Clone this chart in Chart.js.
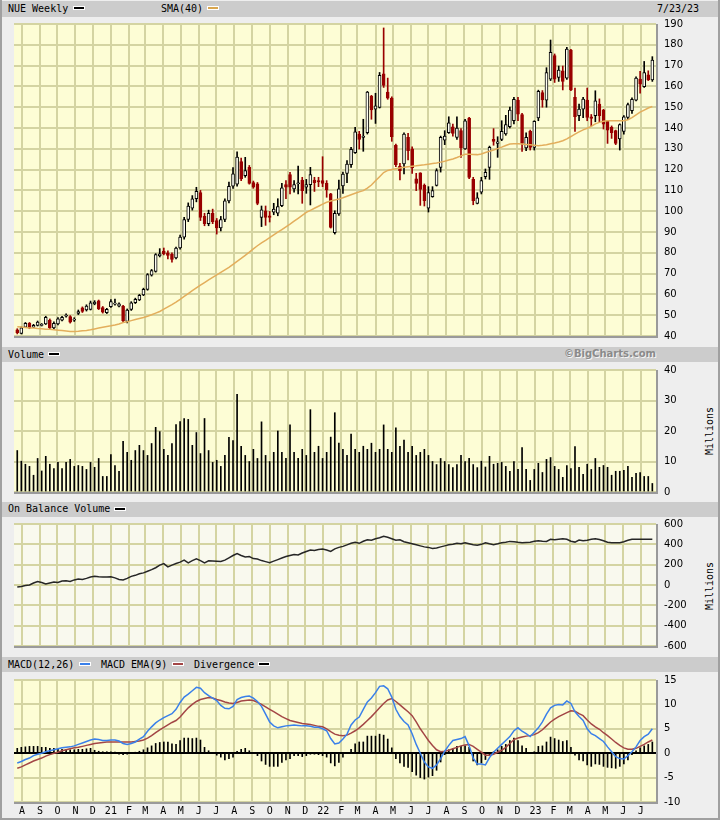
<!DOCTYPE html>
<html>
<head>
<meta charset="utf-8">
<title>NUE Weekly</title>
<script src="https://cdn.jsdelivr.net/npm/chart.js"></script>
<style>
html, body { margin: 0; padding: 0; background: #eeeeee; }
#wrap { position: relative; width: 720px; height: 820px; background: #eeeeee; overflow: hidden;
        font-family: "DejaVu Sans Mono", monospace; font-size: 10px; }
.band { position: absolute; left: 2px; width: 716px; background: #cccccc; }
.edge { position: absolute; background: #a0a0a0; }
.t { position: absolute; white-space: pre; line-height: 10px; color: #000; }
.sw { position: absolute; width: 12px; height: 4px; box-sizing: border-box; border: 1px solid #fff; }
.mil { position: absolute; width: 60px; text-align: center; line-height: 10px; transform: rotate(-90deg); }
.copy { position: absolute; right: 64px; top: 349px; font: bold 10px "DejaVu Sans", sans-serif;
        color: #8a8a8a; text-shadow: 1px 1px 0 #f4f4f4; line-height: 10px; }
canvas { position: absolute; left: 0; }
</style>
</head>
<body>
<div id="wrap">
  <div class="edge" style="left:0;top:0;width:2px;height:820px"></div>
  <div class="edge" style="left:718px;top:0;width:2px;height:820px"></div>
  <div class="edge" style="left:0;top:818px;width:720px;height:2px"></div>

  <div class="band" style="top:1px;height:16px"></div>
  <div class="t" style="left:8px;top:4px">NUE Weekly</div>
  <div class="sw" style="left:73px;top:6px;background:#000"></div>
  <div class="t" style="left:161px;top:4px">SMA(40)</div>
  <div class="sw" style="left:207px;top:6px;background:#d9a64e"></div>
  <div class="t" style="left:657px;top:4px">7/23/23</div>

  <div class="band" style="top:347px;height:15px"></div>
  <div class="t" style="left:8px;top:350px">Volume</div>
  <div class="sw" style="left:48px;top:352px;background:#000"></div>
  <div class="copy">©BigCharts.com</div>
  <div class="mil" style="left:680px;top:426px">Millions</div>

  <div class="band" style="top:502px;height:15px"></div>
  <div class="t" style="left:8px;top:504px">On Balance Volume</div>
  <div class="sw" style="left:114px;top:507px;background:#000"></div>
  <div class="mil" style="left:680px;top:581px">Millions</div>

  <div class="band" style="top:657px;height:15px"></div>
  <div class="t" style="left:8px;top:660px">MACD(12,26)</div>
  <div class="sw" style="left:79px;top:662px;background:#3a80ea"></div>
  <div class="t" style="left:101px;top:660px">MACD EMA(9)</div>
  <div class="sw" style="left:172px;top:662px;background:#a34646"></div>
  <div class="t" style="left:194px;top:660px">Divergence</div>
  <div class="sw" style="left:258px;top:662px;background:#000"></div>

  <canvas id="cPrice" width="720" height="340" style="top:10px"></canvas>
  <canvas id="cVol" width="720" height="150" style="top:356px"></canvas>
  <canvas id="cObv" width="720" height="150" style="top:510px"></canvas>
  <canvas id="cMacd" width="720" height="152" style="top:666px"></canvas>
</div>

<script>

// weekly bars, first bar = week ending 2020-07-24, last = week ending 2023-07-21
const firstWeek = '2020-07-24';

const monthLabels = ['A','S','O','N','D','21','F','M','A','M','J','J',
                     'A','S','O','N','D','22','F','M','A','M','J','J',
                     'A','S','O','N','D','23','F','M','A','M','J','J'];

const openP = [
43.0,41.3,44.2,46.1,44.2,45.1,45.1,45.8,47.7,43.9,45.8,47.6,49.5,49.3,47.6,50.8,53.5,52.5,52.8,55.4,
56.9,53.7,51.2,54.1,55.3,54.4,54.4,47.0,52.8,56.0,57.3,59.8,62.4,69.2,71.1,78.5,80.8,80.0,79.4,77.5,
82.3,87.5,96.0,101.5,106.0,109.0,97.5,94.0,99.0,95.5,92.0,96.0,105.0,112.0,113.0,
123.9,117.1,121.1,113.7,113.1,97.0,100.2,97.8,99.5,99.0,102.7,112.8,117.6,110.7,113.2,115.0,111.5,112.8,115.0,114.7,
114.7,113.4,108.3,89.7,98.7,112.1,118.2,122.4,128.1,137.1,135.5,137.7,155.4,149.0,149.9,166.0,157.3,154.4,131.7,121.7,
122.7,135.5,130.0,115.6,118.5,112.4,101.5,107.0,112.4,121.1,134.2,137.7,140.6,135.5,138.7,130.0,144.8,115.3,103.8,
109.1,116.6,121.1,134.5,132.6,134.5,137.1,140.6,143.5,153.4,146.4,130.4,138.4,130.7,144.8,157.0,153.4,163.5,174.8,164.3,
167.5,164.0,177.5,154.7,145.9,149.1,153.4,145.4,145.9,151.5,148.6,143.2,140.3,138.7,134.7,138.4,145.1,148.3,153.4,163.5,
159.9,165.6,163.1];

const highP = [
43.5,44.4,46.5,46.5,45.6,47.2,46.0,49.5,48.2,46.8,48.8,49.5,50.6,49.8,48.8,52.5,54.0,55.0,56.8,57.0,
57.3,54.2,53.3,57.5,57.8,56.0,54.8,53.0,56.5,58.2,60.0,63.0,70.0,72.0,79.6,82.0,82.3,81.0,80.0,82.8,
88.5,97.0,104.0,107.5,111.5,110.0,99.0,100.5,101.0,96.5,97.5,106.0,114.0,121.0,128.5,
125.5,125.9,122.0,114.5,113.8,102.5,102.5,99.9,103.8,106.0,113.4,114.7,118.7,114.7,121.7,116.3,115.3,121.1,116.3,116.3,
126.2,114.7,108.6,100.2,115.0,118.8,124.3,130.7,140.3,138.4,144.2,157.6,155.7,156.7,166.7,188.1,164.0,155.0,132.3,123.0,
137.7,137.4,131.0,118.2,118.5,113.1,111.8,111.8,120.4,136.1,138.7,145.4,141.9,145.4,139.7,144.2,145.1,116.3,108.9,
116.3,120.3,131.3,139.7,135.8,143.5,146.1,150.0,154.7,154.7,147.0,137.7,139.0,143.5,158.2,158.0,169.0,182.3,175.6,169.8,
169.8,178.8,177.8,159.2,151.5,154.7,159.2,146.5,157.9,154.0,149.0,143.5,141.0,139.0,142.0,146.0,152.0,154.5,164.6,167.2,
172.0,167.5,174.3];

const lowP = [
41.0,41.0,44.0,43.5,44.0,44.8,44.8,45.5,43.2,43.2,45.3,47.2,49.0,46.2,47.0,50.3,51.3,52.0,52.5,55.0,
52.7,51.0,50.8,53.8,54.8,54.0,46.8,46.3,52.3,55.6,57.0,59.4,62.0,68.8,70.7,78.0,79.0,77.0,75.5,77.0,
81.8,86.5,95.0,100.5,104.5,95.5,93.0,93.0,94.0,89.0,90.5,95.0,104.0,111.0,112.0,
114.7,116.3,113.0,111.0,103.1,92.6,93.2,94.8,98.3,97.8,102.2,106.0,108.3,109.2,108.3,103.8,108.6,103.0,109.5,111.8,
111.8,106.7,91.9,89.0,98.0,108.6,113.7,121.1,127.8,129.9,128.8,137.1,144.2,142.2,149.6,159.5,153.8,133.6,121.4,115.0,
117.9,124.6,118.2,109.9,102.8,102.5,99.6,106.7,112.1,118.8,132.0,137.4,136.1,134.5,125.9,129.7,115.6,103.1,103.5,
108.3,115.5,115.3,131.7,125.9,133.9,136.5,140.0,142.0,143.5,128.8,129.1,129.4,129.4,143.5,150.0,150.0,162.8,161.9,162.4,
158.3,163.4,157.9,138.4,143.5,145.0,143.5,141.0,143.0,143.0,139.5,132.6,135.0,132.0,129.4,137.0,144.0,147.0,153.0,156.8,
159.5,162.8,162.4];

const closeP = [
41.6,43.9,46.1,43.9,45.1,46.7,45.5,49.0,43.9,46.1,48.3,49.0,50.0,46.7,48.1,51.8,51.8,54.4,56.0,56.3,
53.0,51.5,52.8,56.6,55.8,55.5,47.4,52.5,56.0,57.6,59.5,62.4,69.5,71.4,79.1,79.5,79.5,78.8,76.8,82.3,
87.5,96.0,102.5,106.0,109.5,97.0,94.0,99.0,95.0,92.0,96.0,105.0,112.0,118.0,126.0,
115.5,119.5,113.4,111.5,103.8,100.6,97.0,97.0,101.0,102.2,111.2,111.5,111.5,112.8,113.6,109.9,112.8,117.6,113.7,114.1,
113.4,110.2,92.2,99.0,110.7,117.9,122.7,129.7,138.1,134.5,136.1,157.3,148.7,150.6,165.3,160.5,154.4,135.8,122.4,119.5,
137.1,129.1,120.8,113.4,110.5,105.1,108.9,109.9,119.5,135.5,136.1,142.5,137.4,140.0,130.4,143.5,116.3,105.1,106.4,
114.7,118.7,130.7,133.6,133.3,138.4,141.6,148.6,153.8,146.7,132.6,135.5,130.7,143.2,157.6,153.5,166.7,176.4,163.5,167.9,
162.4,178.0,158.3,145.4,149.1,153.9,145.1,144.6,153.1,145.9,141.9,139.0,137.8,132.6,141.6,145.4,151.2,153.8,164.0,161.1,
166.7,163.1,172.7];

const sma40 = [
44.5,44.3,44.1,43.9,43.8,43.6,43.5,43.3,43.2,43.0,42.8,42.6,42.4,42.2,42.2,42.3,42.5,42.7,43.0,43.4,
43.8,44.2,44.6,44.9,45.3,45.8,46.5,46.9,47.4,47.9,48.4,48.9,49.5,50.2,51.0,51.8,52.9,54.0,55.1,56.3,
57.6,59.0,60.4,61.8,63.1,64.4,65.7,67.0,68.2,69.4,70.6,71.8,73.0,74.4,75.9,77.3,78.8,80.3,81.9,83.4,
84.8,86.0,87.3,88.6,89.9,91.2,92.5,93.8,95.2,96.6,98.0,99.4,100.4,101.4,102.4,103.4,104.3,104.9,105.4,105.9,
106.5,107.2,107.9,108.6,109.3,109.9,111.1,112.6,114.6,116.6,118.6,119.6,120.0,120.4,120.8,121.1,121.4,121.6,121.8,122.1,
122.3,122.6,122.9,123.2,123.6,124.0,124.6,125.1,125.8,126.6,127.4,127.4,127.3,127.2,127.5,128.2,128.8,129.4,130.1,130.8,
131.6,132.3,132.4,132.4,132.3,132.1,131.9,131.7,131.5,131.7,132.0,132.4,132.8,133.3,133.9,134.8,135.9,137.1,138.1,139.1,
139.9,140.8,142.0,142.7,143.2,143.5,143.5,143.5,143.5,143.5,144.0,145.0,146.3,147.6,148.6,149.6,150.3];

const volume = [
13.6,10.1,9.1,8.4,5.5,11.0,6.9,11.7,9.1,7.7,9.7,7.7,9.7,10.7,8.4,8.7,8.4,7.4,9.7,8.1,
11.0,5.1,5.1,12.3,8.7,6.8,16.6,13.0,10.4,13.6,15.3,13.6,12.0,15.9,21.2,19.8,14.0,12.0,15.9,22.1,
23.1,24.1,23.8,15.3,19.5,12.6,24.1,13.6,9.7,10.4,8.4,12.0,17.9,16.9,32.0,
15,12,10,14,11,23,12,10,13,20,13,11,22,13,11,14,12,27,13,15,
11,13,18,26,16,14,12,19,14,13,15,14,16,13,14,22,14,13,21,15,
17,13,15,12,13,14,12,10,9,11,10,9,8,9,12,10,11,9,8,
10.1,8.2,11.7,9.1,9.4,9.7,8.4,6.8,10.0,7.4,14.6,7.4,3.8,7.4,9.4,6.4,10.7,11.3,8.4,7.4,
4.8,8.7,7.7,14.9,8.1,5.8,9.1,7.4,11.0,8.1,8.7,8.1,5.5,6.8,6.8,7.1,8.4,4.8,6.1,6.4,
5.1,5.1,2.8];

const obv = [
-20,-15,-5,0,20,35,25,10,20,30,25,40,42,35,50,59,55,65,79,85,
80,78,79,80,70,55,50,65,85,95,110,119,135,151,170,195,211,178,195,211,
225,244,218,240,257,240,218,238,236,234,231,245,267,290,310,290,275,280,260,255,
240,230,220,235,250,265,280,290,300,295,315,330,345,340,350,355,345,330,355,370,
380,395,410,420,410,430,445,440,455,465,480,470,455,440,445,425,415,405,395,385,
375,370,360,365,375,385,395,400,410,405,415,405,395,390,400,416,405,396,405,415,
420,429,425,420,416,418,420,430,436,430,429,449,445,450,455,450,430,422,442,436,
440,450,455,448,435,420,416,415,416,425,440,449,449,449,449,449,449];

const macd = [
-2.0,-1.7,-1.3,-1.0,-0.5,-0.2,0.0,0.3,0.5,0.7,0.9,1.1,1.2,1.3,1.5,1.8,2.1,2.4,2.7,2.9,
2.8,2.6,2.6,2.7,2.7,2.5,2.0,1.8,2.0,2.3,2.9,3.4,4.5,5.4,6.2,6.8,7.3,7.7,8.1,9.0,
10.4,11.5,12.1,12.8,13.5,13.3,12.4,11.8,11.3,10.8,9.8,9.2,9.1,9.6,11.0,11.4,11.6,11.7,11.3,10.6,
9.6,8.0,6.4,5.6,5.2,5.4,5.6,5.7,5.8,5.7,5.6,5.6,5.5,5.3,5.3,5.0,4.6,3.0,1.9,2.1,
2.9,3.9,5.8,6.8,7.4,9.0,10.5,11.3,12.4,13.7,13.8,13.2,11.5,9.0,7.5,6.5,5.8,4.0,1.8,0.0,
-1.8,-2.8,-3.1,-2.4,-1.1,0.4,1.6,2.6,2.8,3.0,3.4,1.5,-1.0,-2.2,-2.2,-2.4,-0.9,0.2,1.0,1.8,
2.6,3.4,4.6,5.2,4.5,4.0,3.4,4.3,5.2,6.4,8.0,9.3,9.8,10.0,9.9,10.7,10.2,8.5,7.5,6.7,
5.0,4.0,3.6,3.0,2.4,1.3,0.3,-0.7,-1.1,-1.2,-0.5,0.3,1.3,2.6,3.4,3.9,5.0];

const macdSignal = [
-3.1,-2.8,-2.4,-2.0,-1.6,-1.3,-1.0,-0.6,-0.3,0.0,0.2,0.5,0.7,0.9,1.1,1.2,1.4,1.6,1.8,2.0,
2.1,2.2,2.3,2.3,2.3,2.3,2.3,2.3,2.3,2.4,2.5,2.7,3.1,3.6,4.2,4.8,5.3,5.8,6.3,6.7,
7.4,8.4,9.3,10.0,10.6,11.0,11.2,11.4,11.3,11.0,10.8,10.5,10.3,10.2,10.4,10.7,10.8,10.9,10.8,10.4,
10.0,9.5,9.0,8.5,8.0,7.5,7.1,6.7,6.5,6.3,6.1,6.0,5.9,5.7,5.5,5.4,5.0,4.4,3.9,3.7,
3.6,3.7,4.1,4.6,5.2,5.9,6.7,7.5,8.4,9.3,10.2,10.9,11.2,10.6,9.9,9.2,8.5,7.7,6.4,5.0,
3.8,2.6,1.6,0.7,0.3,0.4,0.6,0.9,1.2,1.5,1.7,1.8,1.4,0.8,0.2,-0.4,-0.4,-0.2,0.2,0.6,
1.2,2.0,2.8,3.1,3.3,3.5,3.6,3.8,4.2,4.8,5.6,6.4,7.0,7.5,7.9,8.3,8.7,8.6,8.1,7.7,
6.8,6.0,5.4,4.9,4.2,3.6,2.9,2.2,1.6,1.1,0.8,0.8,1.0,1.4,1.8,2.3,2.7];

const divergence = [
1.0,1.2,1.3,1.4,1.4,1.4,1.2,1.2,1.0,1.0,0.8,0.8,0.7,0.7,0.7,0.8,0.8,0.9,1.0,0.6,
0.4,0.3,0.3,0.3,0.2,-0.1,-0.3,-0.2,0.0,0.2,0.4,0.7,1.1,1.5,2.0,2.2,2.3,2.3,1.9,1.8,
2.6,3.1,3.1,3.0,3.1,2.7,1.2,0.5,0.0,-0.4,-0.8,-1.4,-1.1,-0.8,0.4,0.8,1.0,0.5,0.0,-0.5,
-1.6,-2.3,-2.7,-2.7,-2.7,-1.9,-1.4,-1.1,-0.5,-0.5,-0.7,-0.5,-0.1,-0.2,-0.3,-0.5,-0.8,-2.0,-2.6,-1.9,
-0.8,0.0,0.8,1.9,2.3,2.3,3.5,3.5,3.5,3.9,3.7,2.9,1.1,-1.1,-2.0,-2.7,-2.9,-3.8,-4.5,-5.0,
-5.3,-4.9,-4.6,-3.5,-1.8,-0.3,0.7,1.0,1.4,1.4,1.5,1.2,-1.6,-2.4,-2.0,-1.3,-0.5,0.3,0.7,1.4,
1.8,2.6,3.1,2.6,1.5,1.0,0.0,0.3,1.4,1.5,2.3,3.3,3.0,2.7,2.4,2.6,1.2,-0.4,-1.4,-1.6,
-2.4,-2.7,-2.2,-2.3,-2.7,-2.9,-3.0,-3.1,-2.7,-2.2,-1.4,-0.3,0.5,1.1,1.5,1.8,2.3];


// month gridlines, in week units from the first bar
const t0 = Date.parse(firstWeek + 'T00:00:00Z');
const monthPos = monthLabels.map((m, k) => {
    const d = Date.UTC(2020, 7 + k, 1);
    return (d - t0) / 86400000 / 7;
});

const X_MIN = -0.8, X_MAX = 156.9;
const GRID = '#d4d4a2';
const BG = '#fdfdd5';

Chart.defaults.animation = false;
Chart.defaults.responsive = false;
Chart.defaults.plugins.legend.display = false;
Chart.defaults.plugins.tooltip.enabled = false;

const plotBg = {
    id: 'plotBg',
    beforeDraw(chart, args, opts) {
        const a = chart.chartArea, ctx = chart.ctx;
        ctx.save();
        ctx.fillStyle = opts.color || BG;
        ctx.fillRect(a.left, a.top, a.right - a.left, a.bottom - a.top);
        ctx.restore();
    },
    afterDraw(chart) {
        const a = chart.chartArea, ctx = chart.ctx;
        ctx.save();
        ctx.fillStyle = '#9a9a9a';
        ctx.fillRect(Math.round(a.right), Math.round(a.top), 2, Math.round(a.bottom - a.top) + 2);
        ctx.fillRect(Math.round(a.left), Math.round(a.bottom), Math.round(a.right - a.left) + 2, 2);
        ctx.restore();
    }
};

function xAxis(showLabels) {
    return {
        type: 'linear', min: X_MIN, max: X_MAX, offset: false,
        afterBuildTicks: s => { s.ticks = monthPos.map(v => ({ value: v })); },
        afterFit: s => { s.height = showLabels ? 16 : 0; },
        grid: { color: GRID, lineWidth: 2, drawTicks: false, offset: false },
        border: { display: false },
        ticks: {
            display: showLabels, autoSkip: false, maxRotation: 0, padding: 3,
            color: '#000', font: { family: 'DejaVu Sans Mono', size: 10 },
            callback: (v, i) => monthLabels[i]
        }
    };
}

function yAxis(min, max, step, zeroLine) {
    return {
        position: 'right', min: min, max: max,
        afterFit: s => { s.width = 64; },
        grid: {
            drawTicks: false,
            color: c => (zeroLine && c.tick && c.tick.value === 0) ? '#000' : GRID,
            lineWidth: 2
        },
        border: { display: false },
        ticks: { stepSize: step, padding: 8, color: '#000', font: { family: 'DejaVu Sans', size: 10 } }
    };
}

const isUp = i => closeP[i] >= openP[i];
const DOWN = '#990000';

new Chart(document.getElementById('cPrice'), {
    type: 'bar',
    data: {
        datasets: [
            {
                type: 'line', order: 0,
                data: sma40.map((v, i) => ({ x: i, y: v })),
                borderColor: '#e3ae5c', borderWidth: 1.5, pointRadius: 0
            },
            {
                order: 2, grouped: false, barThickness: 1,
                data: lowP.map((v, i) => ({ x: i, y: [v, highP[i]] })),
                backgroundColor: c => isUp(c.dataIndex) ? '#000' : DOWN
            },
            {
                order: 1, grouped: false, barThickness: 3, borderWidth: 1,
                borderSkipped: false, minBarLength: 1,
                data: openP.map((v, i) => ({ x: i, y: [Math.min(v, closeP[i]), Math.max(v, closeP[i])] })),
                backgroundColor: c => isUp(c.dataIndex) ? '#fffff2' : DOWN,
                borderColor: c => isUp(c.dataIndex) ? '#000' : DOWN
            }
        ]
    },
    options: {
        layout: { padding: { left: 14, right: 0, top: 13, bottom: 14 } },
        scales: { x: xAxis(false), y: yAxis(40, 190, 10, false) },
        plugins: { plotBg: { color: BG } }
    },
    plugins: [plotBg]
});

new Chart(document.getElementById('cVol'), {
    type: 'bar',
    data: {
        datasets: [{
            data: volume.map((v, i) => ({ x: i, y: v })),
            backgroundColor: '#000', barThickness: 1
        }]
    },
    options: {
        layout: { padding: { left: 14, right: 0, top: 13, bottom: 14 } },
        scales: { x: xAxis(false), y: yAxis(0, 40, 10, false) },
        plugins: { plotBg: { color: BG } }
    },
    plugins: [plotBg]
});

new Chart(document.getElementById('cObv'), {
    type: 'line',
    data: {
        datasets: [{
            data: obv.map((v, i) => ({ x: i, y: v })),
            borderColor: '#262626', borderWidth: 1.5, pointRadius: 0
        }]
    },
    options: {
        layout: { padding: { left: 14, right: 0, top: 13, bottom: 13 } },
        scales: { x: xAxis(false), y: yAxis(-600, 600, 200, false) },
        plugins: { plotBg: { color: '#f9f9ee' } }
    },
    plugins: [plotBg]
});

new Chart(document.getElementById('cMacd'), {
    type: 'bar',
    data: {
        datasets: [
            {
                type: 'line', order: 0,
                data: macd.map((v, i) => ({ x: i, y: v })),
                borderColor: '#3a80ea', borderWidth: 1.5, pointRadius: 0
            },
            {
                type: 'line', order: 1,
                data: macdSignal.map((v, i) => ({ x: i, y: v })),
                borderColor: '#a34646', borderWidth: 1.5, pointRadius: 0
            },
            {
                order: 2, barThickness: 1,
                data: divergence.map((v, i) => ({ x: i, y: v })),
                backgroundColor: '#000'
            }
        ]
    },
    options: {
        layout: { padding: { left: 14, right: 0, top: 13, bottom: 0 } },
        scales: { x: xAxis(true), y: yAxis(-10, 15, 5, true) },
        plugins: { plotBg: { color: BG } }
    },
    plugins: [plotBg]
});

</script>
</body>
</html>
